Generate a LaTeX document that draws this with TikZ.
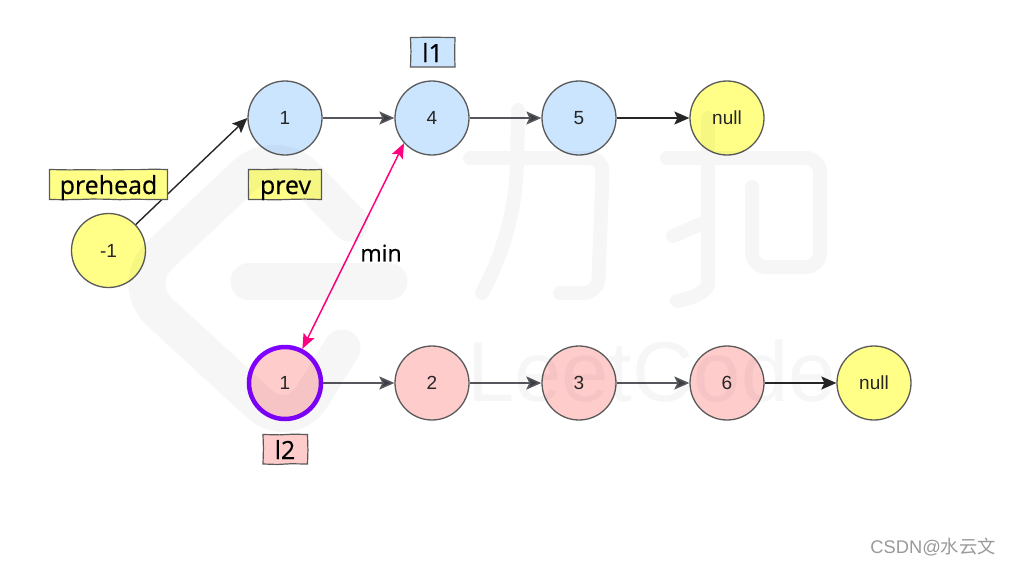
\documentclass[tikz,border=0pt]{standalone}
\usepackage{fontspec}
\setmainfont{Liberation Sans}
\newfontfamily\handfont[FakeBold=0.5]{Open Sans}
\newfontfamily\cjkfont{Noto Sans CJK SC}
\usetikzlibrary{arrows.meta,decorations.pathmorphing}
\definecolor{nodeblue}{HTML}{CCE5FF}
\definecolor{nodered}{HTML}{FFCCCC}
\definecolor{nodeyellow}{HTML}{FFFF88}
\definecolor{edgegray}{HTML}{5A5A5A}
\definecolor{linkgray}{HTML}{55575C}
\definecolor{headgray}{HTML}{3C3E44}
\definecolor{minpink}{HTML}{FF0080}
\definecolor{curpurple}{HTML}{7F00FF}
\definecolor{markgray}{HTML}{9A9A9A}
\tikzset{
  x=1pt,y=-1pt,
  listnode/.style={circle,draw=edgegray,line width=1.3pt,minimum size=74pt,inner sep=0pt,font=\fontsize{19}{21}\selectfont,text=black!85},
  handtext/.style={inner sep=0pt,font=\handfont\fontsize{25}{28}\selectfont,text=black},
  handbox/.style={draw=edgegray,line width=1.2pt,decorate,decoration={random steps,segment length=14pt,amplitude=.45pt}},
  link/.style={draw=linkgray,line width=1.5pt,-{Stealth[length=15pt,width=13pt,inset=3pt,fill=headgray]}},
  darklink/.style={draw=black!85,line width=1.5pt,-{Stealth[length=15pt,width=13pt,inset=3pt]}},
  wmstroke/.style={line cap=round,line join=round,draw=black,draw opacity=.035},
}
\pgfmathsetseed{7}
\begin{document}
\begin{tikzpicture}
\useasboundingbox (0,0) rectangle (1010,566);
\fill[white] (0,0) rectangle (1010,566);

\node[listnode,fill=nodeyellow] (m) at (108.5,250.5) {-1};
\node[listnode,fill=nodeblue] (a1) at (285,118) {1};
\node[listnode,fill=nodeblue] (a2) at (432,118) {4};
\node[listnode,fill=nodeblue] (a3) at (579,118) {5};
\node[listnode,fill=nodeyellow] (a4) at (727,118) {null};
\node[listnode,fill=nodered,draw=curpurple,line width=4.5pt,minimum size=72pt] (b1) at (285,383) {1};
\node[listnode,fill=nodered] (b2) at (432,383) {2};
\node[listnode,fill=nodered] (b3) at (579,383) {3};
\node[listnode,fill=nodered] (b4) at (727,383) {6};
\node[listnode,fill=nodeyellow] (b5) at (874,383) {null};

\draw[link] (a1) -- (a2);
\draw[link] (a2) -- (a3);
\draw[darklink] (a3) -- (a4);
\draw[link] (b1) -- (b2);
\draw[link] (b2) -- (b3);
\draw[link] (b3) -- (b4);
\draw[darklink] (b4) -- (b5);
\draw[darklink,line width=1.4pt] (m) -- (a1.west);
\draw[draw=minpink,line width=1.5pt,{Stealth[length=15pt,width=12pt,inset=3pt]}-{Stealth[length=15pt,width=12pt,inset=3pt]}] (b1.63) -- (a2.222);

\draw[handbox,fill=nodeyellow] (49.5,169.5) rectangle (167.5,199.5);
\draw[handbox,fill=nodeyellow] (248.5,169.5) rectangle (321.5,199.5);
\draw[handbox,fill=nodeblue] (410.5,37.5) rectangle (455,67);
\draw[handbox,fill=nodered] (263,434.5) rectangle (307.5,464);
\node[handtext,anchor=base] (pre) at (108.5,194) {prehead};
\node[handtext,anchor=base] (prv) at (285.5,194) {prev};
\node[handtext,anchor=base] (lone) at (432.5,62) {l1};
\node[handtext,anchor=base] (ltwo) at (285,459) {l2};
\node[handtext,font=\handfont\fontsize{23}{26}\selectfont] (minl) at (381,253) {min};
\node[anchor=east,font=\fontsize{18.3}{20}\selectfont,text=markgray,inner sep=0pt] (csdn) at (996,547) {CSDN@{\cjkfont 水云文}};

% watermark
\draw[wmstroke,line width=37pt,rounded corners=42pt] (350,223) -- (276,146) -- (129,284) -- (290,432) -- (342,348);
\draw[wmstroke,line width=37pt] (249,281.5) -- (389,281.5);
\draw[wmstroke,line width=14pt,rounded corners=14pt]
  (470,158) -- (603,158) -- (598,293) -- (560,293)
  (518,110) -- (517,167) .. controls (513,220) and (500,260) .. (482,293)
  (667,158) -- (820,158) -- (820,267) -- (752,267) -- (752,187)
  (708,118) -- (708,270) .. controls (708,290) and (695,298) .. (677,301)
  (673,236) -- (708,221);
\node[anchor=base west,inner sep=0pt,font=\fontsize{85}{90}\selectfont,text=black,text opacity=.035] (wm) at (467,401) {LeetCode};
\end{tikzpicture}
\end{document}
